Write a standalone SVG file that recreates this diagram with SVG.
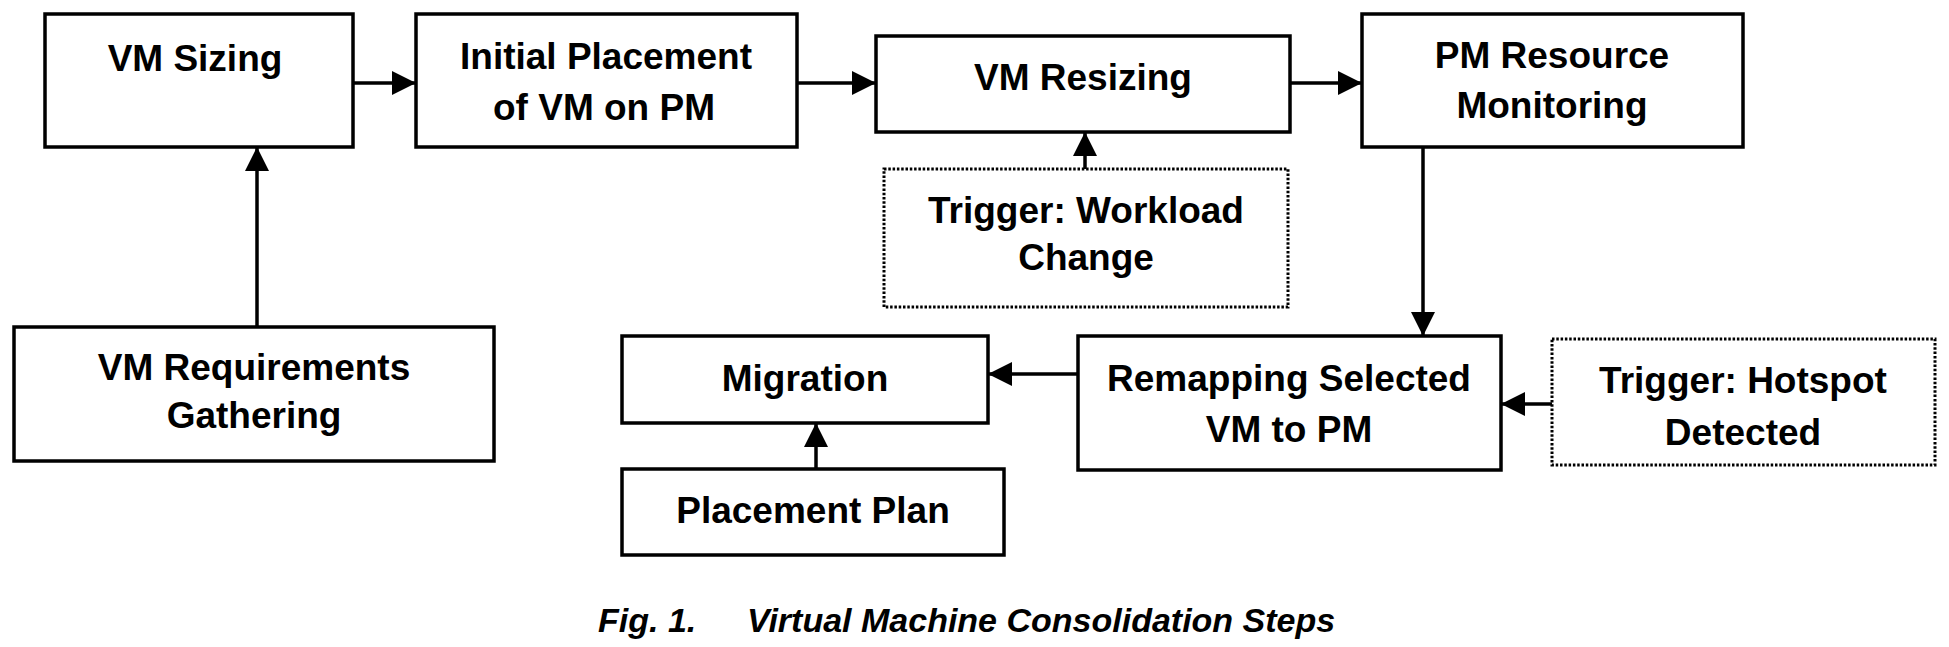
<svg xmlns="http://www.w3.org/2000/svg" width="1949" height="647" viewBox="0 0 1949 647">
<style>
.box{fill:#fff;stroke:#000;stroke-width:3.5}
.dot{fill:#fff;stroke:#000;stroke-width:3;stroke-dasharray:2.5 1.8}
.t{font-family:"Liberation Sans",Arial,sans-serif;font-weight:bold;font-size:37px;fill:#000;text-anchor:middle}
.cap{font-family:"Liberation Sans",Arial,sans-serif;font-weight:bold;font-style:italic;font-size:34px;fill:#000}
.c{stroke:#000;stroke-width:3.5;fill:none;marker-end:url(#ah)}
</style>
<defs>
<marker id="ah" markerUnits="userSpaceOnUse" markerWidth="24" markerHeight="24" viewBox="0 0 22 22" refX="22" refY="11" orient="auto">
<path d="M0,0 L22,11 L0,22 Z" fill="#000"/>
</marker>
</defs>
<rect width="1949" height="647" fill="#fff"/>
<g id="connectors">
<line class="c" x1="353" y1="83" x2="416" y2="83"/>
<line class="c" x1="797" y1="83" x2="876" y2="83"/>
<line class="c" x1="1290" y1="83" x2="1362" y2="83"/>
<line class="c" x1="1085" y1="169" x2="1085" y2="132"/>
<line class="c" x1="257" y1="327" x2="257" y2="147"/>
<line class="c" x1="1423" y1="147" x2="1423" y2="336"/>
<line class="c" x1="1078" y1="374" x2="988" y2="374"/>
<line class="c" x1="1552" y1="404" x2="1501" y2="404"/>
<line class="c" x1="816" y1="469" x2="816" y2="423"/>
</g>
<g id="vm-sizing">
<rect class="box" x="45" y="14" width="308" height="133"/>
<text class="t" x="195" y="71">VM Sizing</text>
</g>
<g id="initial-placement">
<rect class="box" x="416" y="14" width="381" height="133"/>
<text class="t" x="606" y="69">Initial Placement</text>
<text class="t" x="604" y="120">of VM on PM</text>
</g>
<g id="vm-resizing">
<rect class="box" x="876" y="36" width="414" height="96"/>
<text class="t" x="1083" y="90">VM Resizing</text>
</g>
<g id="pm-monitoring">
<rect class="box" x="1362" y="14" width="381" height="133"/>
<text class="t" x="1552" y="68">PM Resource</text>
<text class="t" x="1552" y="118">Monitoring</text>
</g>
<g id="trigger-workload">
<rect class="dot" x="884" y="169" width="404" height="138"/>
<text class="t" x="1086" y="223">Trigger: Workload</text>
<text class="t" x="1086" y="270">Change</text>
</g>
<g id="vm-requirements">
<rect class="box" x="14" y="327" width="480" height="134"/>
<text class="t" x="254" y="380">VM Requirements</text>
<text class="t" x="254" y="428">Gathering</text>
</g>
<g id="migration">
<rect class="box" x="622" y="336" width="366" height="87"/>
<text class="t" x="805" y="391">Migration</text>
</g>
<g id="placement-plan">
<rect class="box" x="622" y="469" width="382" height="86"/>
<text class="t" x="813" y="523">Placement Plan</text>
</g>
<g id="remapping">
<rect class="box" x="1078" y="336" width="423" height="134"/>
<text class="t" x="1289" y="391">Remapping Selected</text>
<text class="t" x="1289" y="442">VM to PM</text>
</g>
<g id="trigger-hotspot">
<rect class="dot" x="1552" y="339" width="383" height="126"/>
<text class="t" x="1743" y="393">Trigger: Hotspot</text>
<text class="t" x="1743" y="445">Detected</text>
</g>
<g id="caption">
<text class="cap" x="598" y="632">Fig. 1.</text>
<text class="cap" x="747" y="632">Virtual Machine Consolidation Steps</text>
</g>
</svg>
